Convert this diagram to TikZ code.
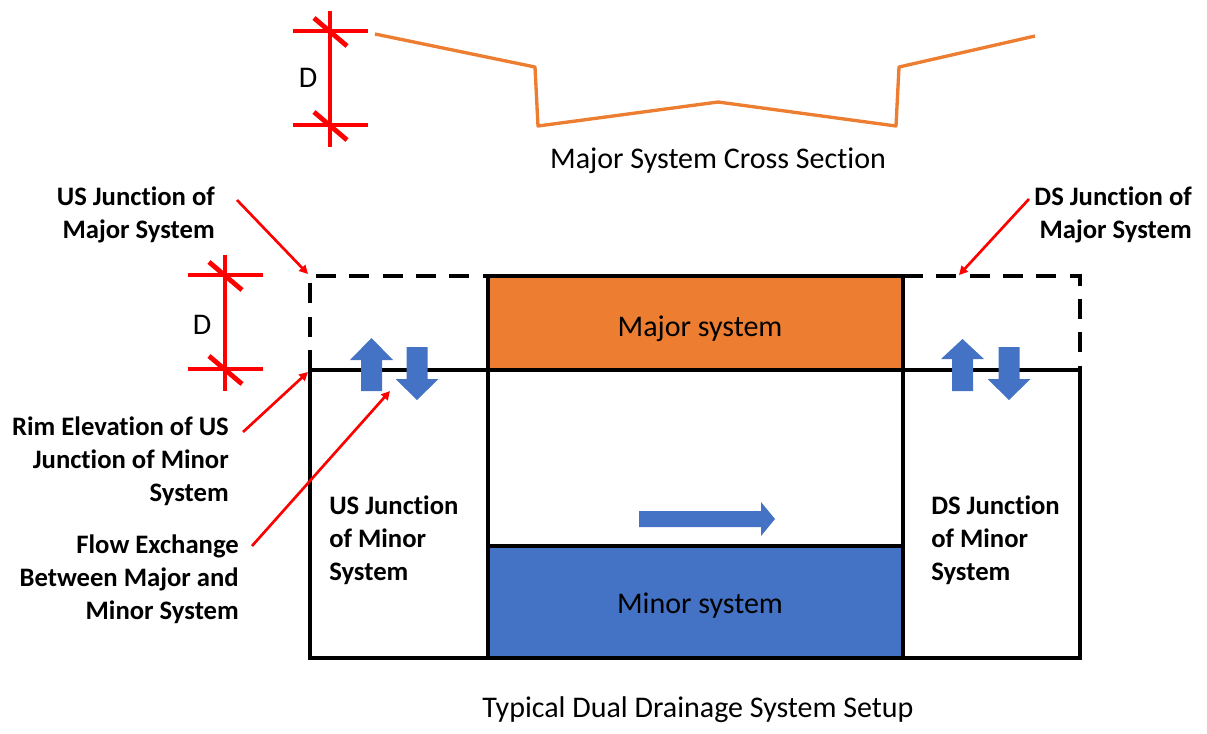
\documentclass[tikz,border=0pt]{standalone}
\usepackage{fontspec}
\setmainfont{Carlito}[Ligatures=NoCommon]
\usetikzlibrary{arrows.meta}
\definecolor{majororange}{HTML}{ED7D31}
\definecolor{minorblue}{HTML}{4472C4}
\definecolor{markred}{HTML}{FF0000}
\newcommand{\depthmark}[3]{%
  \draw[dimline] (#1,#2-20) -- (#1,#3+22);
  \draw[dimline] (#1-37,#2) -- (#1+38,#2);
  \draw[dimline] (#1-37,#3) -- (#1+38,#3);
  \draw[dimline] (#1-16,#2-13) -- (#1+17,#2+15);
  \draw[dimline] (#1-16,#3-13) -- (#1+17,#3+15);
}

\begin{document}
\begin{tikzpicture}[
  x=0.75pt,
  y=-0.75pt,
  every node/.style={inner sep=0pt, text=black},
  caption/.style={font=\fontsize{22.5}{27}\selectfont},
  note/.style={font=\fontsize{20}{24.75}\selectfont\bfseries},
  dimline/.style={markred, line width=3.6pt},
  section/.style={majororange, line width=2.5pt, line join=round},
  wall/.style={black, line width=3pt, line cap=rect},
  rim/.style={black, line width=3pt, dash pattern=on 15pt off 10pt},
  pointer/.style={markred, line width=2pt, -{Triangle[length=6.5pt, width=6.5pt]}},
  flowfill/.style={fill=minorblue}
]
  \useasboundingbox (0,0) rectangle (1207,733);

  % ---- cross section of the major system -------------------------------
  \draw[section] (375,34) -- (535,67) -- (538,126) -- (718,102)
    -- (896,126) -- (899,67) -- (1035,36);
  \node[caption] (crosssec) at (718,161) {Major System Cross Section};

  \depthmark{330}{31}{125}
  \node[caption] (dtop) at (308,78) {D};

  % ---- filled conduits --------------------------------------------------
  \fill[majororange] (488,276) rectangle (903,370);
  \fill[minorblue] (488,546) rectangle (903,658);
  \node[caption] (majortext) at (700,329) {Major system};
  \node[caption] (minortext) at (700,606) {Minor system};

  % ---- junction outlines ------------------------------------------------
  \draw[rim] (310,370) -- (310,276) -- (488,276);
  \draw[rim] (903,276) -- (1080,276) -- (1080,370);
  \draw[wall] (310,370) -- (1080,370);
  \draw[wall] (310,370) -- (310,658) -- (1080,658) -- (1080,370);
  \draw[wall] (488,276) -- (903,276);
  \draw[wall] (488,276) -- (488,658);
  \draw[wall] (903,276) -- (903,658);
  \draw[wall] (488,546) -- (903,546);

  \depthmark{225}{275}{369}
  \node[caption] (dbox) at (202,325) {D};

  \node[caption] (setup) at (698,710) {Typical Dual Drainage System Setup};

  % ---- flow arrows ------------------------------------------------------
  \foreach \cx/\ya/\yb/\yt in {371.5/391/360/338, 417/347/379/400,
                               962.5/391/359/339, 1009/347/379/400}
    \fill[flowfill] ({\cx-10.5},\ya) -- ({\cx-10.5},\yb) -- ({\cx-21.5},\yb)
      -- (\cx,\yt) -- ({\cx+21.5},\yb) -- ({\cx+10.5},\yb)
      -- ({\cx+10.5},\ya) -- cycle;
  \fill[flowfill] (639,511) -- (761,511) -- (761,502) -- (775,519)
    -- (761,536) -- (761,527) -- (639,527) -- cycle;

  % ---- labels -----------------------------------------------------------
  \node[note, anchor=east, align=right] (usmajor) at (215,215)
    {US Junction of\\Major System};
  \node[note, anchor=east, align=right] (dsmajor) at (1192,215)
    {DS Junction of\\Major System};
  \node[note, anchor=east, align=right] (rimlabel) at (229,461)
    {Rim Elevation of US\\Junction of Minor\\System};
  \node[note, anchor=east, align=right] (exchange) at (239,579)
    {Flow Exchange\\Between Major and\\Minor System};
  \node[note, anchor=west, align=left] (usminor) at (329,540)
    {US Junction\\of Minor\\System};
  \node[note, anchor=west, align=left] (dsminor) at (931,540)
    {DS Junction\\of Minor\\System};

  % ---- pointers ---------------------------------------------------------
  \coordinate (usmajortail) at (237,200);
  \coordinate (usmajortip) at (308,274);
  \coordinate (dsmajortail) at (1029,199);
  \coordinate (dsmajortip) at (959,275);
  \coordinate (rimtail) at (243,432);
  \coordinate (rimtip) at (308,372);
  \coordinate (exchangetail) at (252,546);
  \coordinate (exchangetip) at (390,391);
  \draw[pointer] (usmajortail) -- (usmajortip);
  \draw[pointer] (dsmajortail) -- (dsmajortip);
  \draw[pointer] (rimtail) -- (rimtip);
  \draw[pointer] (exchangetail) -- (exchangetip);

\end{tikzpicture}
\end{document}
